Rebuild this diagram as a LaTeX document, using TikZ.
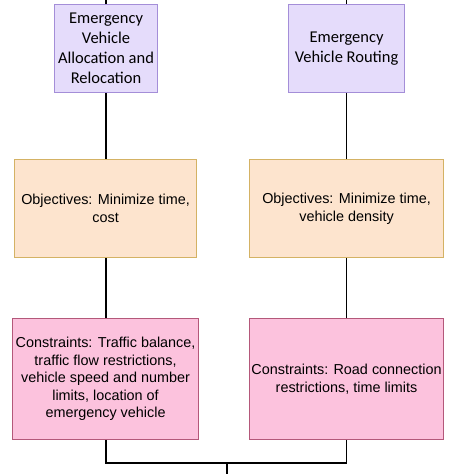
\documentclass[tikz,border=0pt]{standalone}
\usepackage{fontspec}
\setmainfont{Liberation Sans}
\newfontfamily\calib{Carlito}
\definecolor{pfill}{HTML}{E5DCFB}
\definecolor{pdraw}{HTML}{A48ED8}
\definecolor{ofill}{HTML}{FDE4CE}
\definecolor{odraw}{HTML}{D4B264}
\definecolor{cfill}{HTML}{FCC2DD}
\definecolor{cdraw}{HTML}{B4587A}
\begin{document}
\begin{tikzpicture}[x=1pt,y=-1pt,
  box/.style={draw, line width=1.1pt, align=center, inner sep=0pt, anchor=north west},
  topbox/.style={box, draw=pdraw, fill=pfill, font=\calib\fontsize{16.5}{20}\selectfont},
  objbox/.style={box, draw=odraw, fill=ofill, font=\fontsize{14.4}{17.5}\selectfont},
  conbox/.style={box, draw=cdraw, fill=cfill, font=\fontsize{14.4}{17.5}\selectfont},
  wire/.style={line width=1.2pt, black}]
\useasboundingbox (0,0) rectangle (474,474);
\node[topbox, minimum width=103pt, minimum height=88pt] (t1) at (54,4) {Emergency\\Vehicle\\Allocation and\\Relocation};
\node[topbox, minimum width=116pt, minimum height=88pt] (t2) at (288,4) {Emergency\\Vehicle Routing};
\node[objbox, minimum width=182pt, minimum height=98pt] (o1) at (14,159) {Objectives: Minimize time,\\cost};
\node[objbox, minimum width=194pt, minimum height=98pt] (o2) at (249,159) {Objectives: Minimize time,\\vehicle density};
\node[conbox, minimum width=186pt, minimum height=121pt] (c1) at (12,318) {Constraints: Traffic balance,\\traffic flow restrictions,\\vehicle speed and number\\limits, location of\\emergency vehicle};
\node[conbox, minimum width=194pt, minimum height=121pt] (c2) at (249,318) {Constraints: Road connection\\restrictions, time limits};
\coordinate (top1) at (t1.north |- 0,0);
\coordinate (top2) at (t2.north |- 0,0);
\coordinate (j1) at (c1.south |- 0,463);
\coordinate (j2) at (c2.south |- 0,463);
\coordinate (jm) at (227,463);
\coordinate (bot) at (227,474);
\draw[wire] (top1) -- (t1.north);
\draw[wire] (top2) -- (t2.north);
\draw[wire] (t1.south) -- (o1.north -| t1.south);
\draw[wire] (t2.south) -- (o2.north -| t2.south);
\draw[wire] (o1.south -| t1.south) -- (c1.north -| t1.south);
\draw[wire] (o2.south -| t2.south) -- (c2.north -| t2.south);
\draw[wire] (c1.south -| t1.south) -- (j1 -| t1.south) -- (j2 -| t2.south) -- (c2.south -| t2.south);
\draw[wire] (jm) -- (bot);
\end{tikzpicture}
\end{document}
